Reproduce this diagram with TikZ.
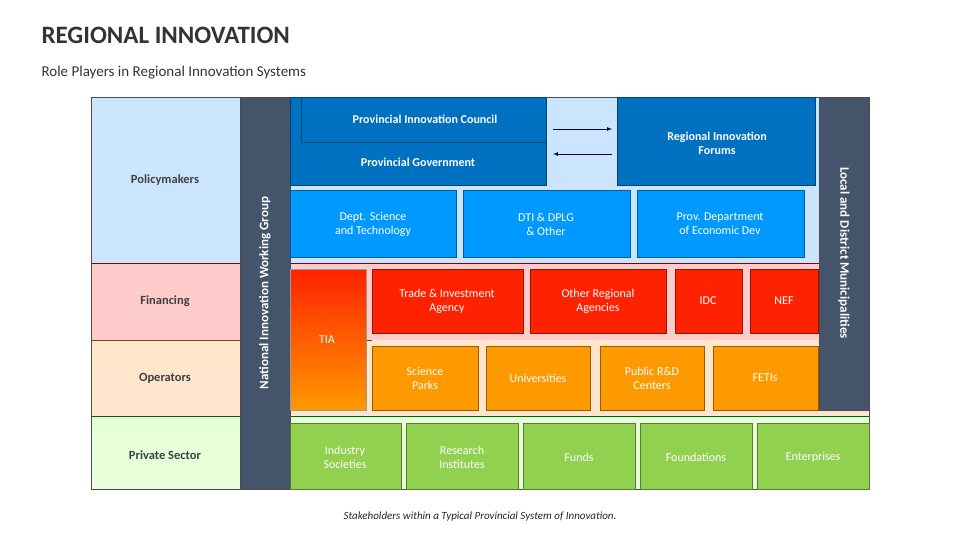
\documentclass[tikz,border=0pt]{standalone}
\usepackage{fontspec}
\setmainfont{Carlito}
\begin{document}
\begin{tikzpicture}[x=1pt,y=-1pt,
  bx/.style={draw=#1!60!black, line width=0.8pt},
  lbl/.style={font=\fontsize{12}{14}\selectfont\bfseries, text=white, align=center},
  rowlbl/.style={font=\fontsize{12.5}{14}\selectfont\bfseries, text=black!75},
  arr/.style={-latex, draw=black!70!blue, line width=0.7pt}]
\useasboundingbox (0,0) rectangle (960,540);
\definecolor{dblue}{HTML}{0070C0}
\definecolor{mblue}{HTML}{0099FF}
\definecolor{fred}{HTML}{FF2200}
\definecolor{opor}{HTML}{FF9900}
\definecolor{pgreen}{HTML}{92D050}
\definecolor{slate}{HTML}{44546A}
\node[anchor=west, font=\fontsize{25}{28}\selectfont\bfseries, text=black!80] (title) at (38,35) {REGIONAL INNOVATION};
\node[anchor=west, font=\fontsize{15}{18}\selectfont, text=black!80] (sub) at (38,73) {Role Players in Regional Innovation Systems};
% bands
\fill[fill=blue!50!cyan!20] (91,97) rectangle (869,263);
\fill[fill=red!20] (91,263) rectangle (869,340);
\fill[fill=orange!20] (91,340) rectangle (869,416);
\fill[fill=green!50!lime!15] (91,416) rectangle (869,489);
\draw[blue!40!black] (91,97) rectangle (240,263);
\draw[red!50!black] (91,263) rectangle (240,340) (240,263)--(819,263);
\draw[orange!50!black] (91,340) rectangle (240,416) (290,340)--(372,340);
\draw[green!40!black] (91,416) rectangle (240,489) (240,416)--(869,416);
\draw[black!70] (91,97) rectangle (869,489);
\node[rowlbl] (pm) at (165,180) {Policymakers};
\node[rowlbl] (fi) at (165,301) {Financing};
\node[rowlbl] (op) at (165,378) {Operators};
\node[rowlbl] (ps) at (165,455) {Private Sector};
% bars
\fill[slate] (240,97) rectangle (290,489);
\draw[black!70] (240,97) rectangle (290,489);
\node[lbl, rotate=90, font=\fontsize{13}{15}\selectfont\bfseries] (niwg) at (265,293) {National Innovation Working Group};
\fill[slate] (819,97) rectangle (869,410);
\draw[black!70] (819,97) rectangle (869,410);
\node[lbl, rotate=-90, font=\fontsize{13}{15}\selectfont\bfseries] (ldm) at (844,253) {Local and District Municipalities};
% policymakers
\draw[bx=dblue, fill=dblue] (290,97) rectangle (546,185);
\node[lbl] (pg) at (418,162) {Provincial Government};
\draw[bx=dblue, fill=dblue] (301,97) rectangle (546,142);
\node[lbl] (pic) at (425,119) {Provincial Innovation Council};
\draw[bx=dblue, fill=dblue] (617,97) rectangle (815,185);
\node[lbl] (rif) at (717,143) {Regional Innovation\\Forums};
\coordinate (a1) at (553,129); \coordinate (a2) at (612,129);
\coordinate (b1) at (612,154); \coordinate (b2) at (553,154);
\draw[arr] (a1) -- (a2);
\draw[arr] (b1) -- (b2);
\tikzset{db/.style={bx=mblue, fill=mblue}, dl/.style={lbl, font=\fontsize{12}{14}\selectfont}}
\draw[db] (290,190) rectangle (456,257); \node[dl] (d1) at (373,224) {Dept. Science\\and Technology};
\draw[db] (463,190) rectangle (630,257); \node[dl] (d2) at (546,224) {DTI \& DPLG\\\& Other};
\draw[db] (637,190) rectangle (804,257); \node[dl] (d3) at (720,224) {Prov. Department\\of Economic Dev};
% TIA
\shade[top color=fred, bottom color=opor] (290,269) rectangle (366,410);
\draw[black!40] (290,269) rectangle (366,410);
\node[dl] (tia) at (327,340) {TIA};
\tikzset{fb/.style={bx=fred, fill=fred}, ob/.style={bx=opor, fill=opor}, gb/.style={bx=pgreen, fill=pgreen}}
\draw[fb] (372,269) rectangle (523,333); \node[dl] (f1) at (447,301) {Trade \& Investment\\Agency};
\draw[fb] (530,269) rectangle (666,333); \node[dl] (f2) at (598,301) {Other Regional\\Agencies};
\draw[fb] (675,269) rectangle (742,333); \node[dl] (f3) at (708,301) {IDC};
\draw[fb] (750,269) rectangle (818,333); \node[dl] (f4) at (784,301) {NEF};
\draw[ob] (372,346) rectangle (478,410); \node[dl] (o1) at (425,378) {Science\\Parks};
\draw[ob] (486,346) rectangle (590,410); \node[dl] (o2) at (538,378) {Universities};
\draw[ob] (600,346) rectangle (704,410); \node[dl] (o3) at (652,378) {Public R\&D\\Centers};
\draw[ob] (713,346) rectangle (818,410); \node[dl] (o4) at (765,378) {FETIs};
\draw[gb] (290,423) rectangle (401,489); \node[dl] (g1) at (345,457) {Industry\\Societies};
\draw[gb] (406,423) rectangle (518,489); \node[dl] (g2) at (462,457) {Research\\Institutes};
\draw[gb] (523,423) rectangle (635,489); \node[dl] (g3) at (579,457) {Funds};
\draw[gb] (640,423) rectangle (752,489); \node[dl] (g4) at (696,457) {Foundations};
\draw[gb] (757,423) rectangle (869,489); \node[dl] (g5) at (813,457) {Enterprises};
\node[font=\fontsize{11}{13}\selectfont\itshape, text=black!85] (cap) at (480,517) {Stakeholders within a Typical Provincial System of Innovation.};
\end{tikzpicture}
\end{document}
